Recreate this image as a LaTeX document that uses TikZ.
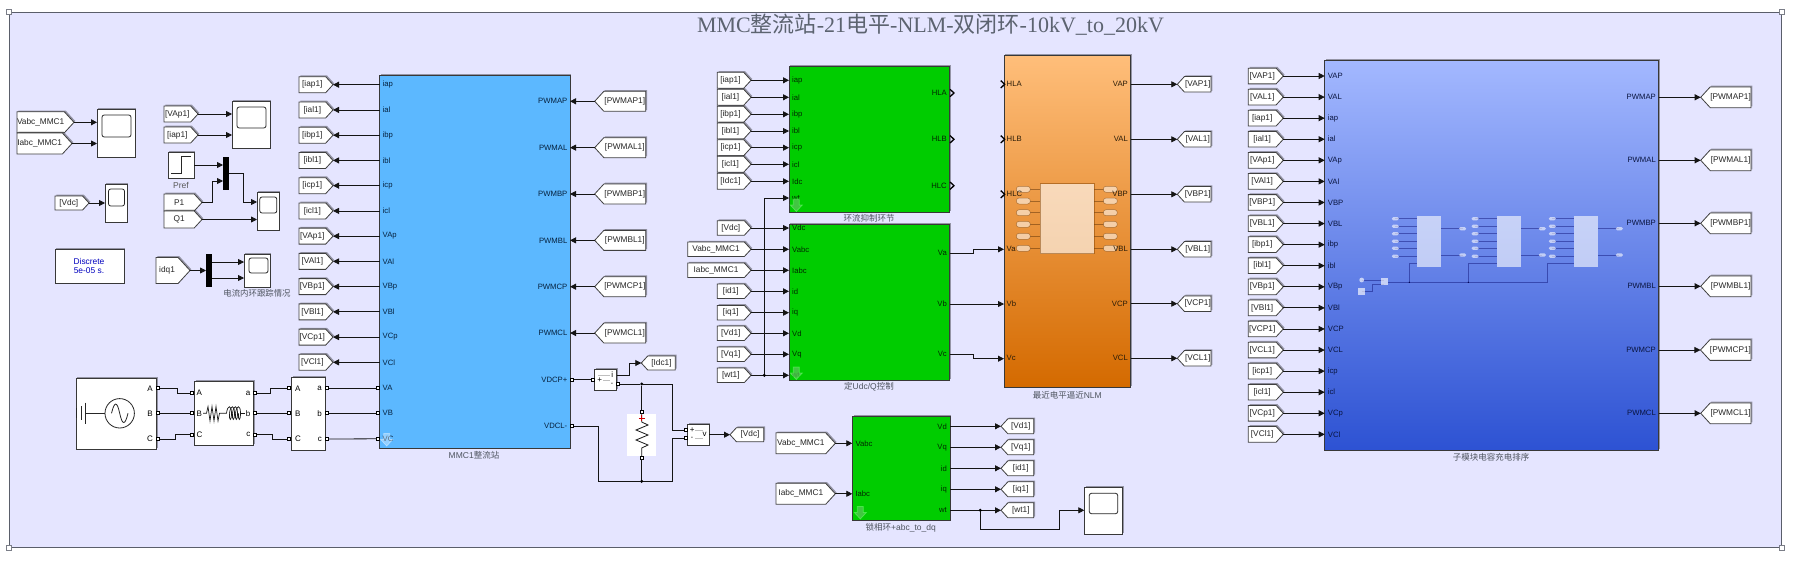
\documentclass[tikz,border=0pt]{standalone}
\usepackage{fontspec}
\setmainfont{Liberation Sans}
\newfontfamily\serifT{Liberation Serif}
\newfontfamily\cjk{Noto Sans CJK SC}
\usetikzlibrary{shapes.symbols,shadows,arrows.meta}
\definecolor{bgc}{HTML}{E5E5FF}
\definecolor{frm}{HTML}{5A5E6A}
\definecolor{ttl}{HTML}{5C6370}
\definecolor{capc}{HTML}{4F5560}
\definecolor{mmcb}{HTML}{5CB8FF}
\definecolor{grn}{HTML}{00CC00}
\definecolor{ptBlue}{HTML}{06223F}
\definecolor{ptGreen}{HTML}{012A01}
\definecolor{ptOr}{HTML}{2A1C08}
\definecolor{ptSub}{HTML}{0A1540}
\tikzset{
  x=1pt,y=-1pt,
  wire/.style={draw=black!92,line width=.8},
  arr/.style={wire,-{Triangle[length=6,width=6]}},
  shad/.style={drop shadow={shadow xshift=1.3,shadow yshift=-1.3,fill=black,opacity=.35}},
  tagbase/.style={shape=signal,signal pointer angle=95,draw=black!75,line width=.8,fill=white,shad,
    inner sep=0,outer sep=0,text=black!85,font=\fontsize{8.3}{9}\selectfont},
  tagR/.style={tagbase,signal to=east,anchor=west},
  tagL/.style={tagbase,signal to=west,anchor=east},
  blk/.style={draw=black!78,line width=.9,shad,inner sep=0,outer sep=0,anchor=north west},
  wbox/.style={blk,fill=white},
  screen/.style={draw=black!85,line width=.8,rounded corners=2.2,fill=white,inner sep=0,outer sep=0},
  muxb/.style={fill=black,inner sep=0,outer sep=0,anchor=north west},
  dot/.style={circle,fill=black,inner sep=0,outer sep=0,minimum size=3.4},
  port/.style={draw=black,fill=white,line width=.9,inner sep=0,outer sep=0,minimum size=3},
  plabL/.style={inner sep=0,anchor=west,font=\fontsize{7.7}{8}\selectfont},
  plabR/.style={inner sep=0,anchor=east,font=\fontsize{7.7}{8}\selectfont},
  capt/.style={inner sep=0,text=capc,font=\fontsize{8.5}{9}\selectfont},
  chev/.style={draw=black,line width=1.3},
  icol/.style={draw=black!70!orange,draw opacity=.45,line width=.6},
  icob/.style={draw=black!60!blue,draw opacity=.42,line width=.6},
  mask/.pic={\path[pic actions] (-3,-6)--(3,-6)--(3,0)--(6,0)--(0,6.5)--(-6,0)--(-3,0)--cycle;},
  mgreen/.style={fill=black!35!green!65!white,draw=green!60!white,fill opacity=.75,draw opacity=.6,line width=.7},
  mblue/.style={fill=white,draw=white,fill opacity=.35,draw opacity=.4,line width=.7},
}
\begin{document}
\begin{tikzpicture}
\useasboundingbox (0,0) rectangle (1794,562);
\fill[white] (0,0) rectangle (1794,562);
% frame
\node[draw=frm,fill=bgc,line width=1,inner sep=0,anchor=north west,minimum width=1772,minimum height=535] (frame) at (8.7,12) {};
\foreach \p in {north west,north east,south west,south east}
  \draw[frm!80,fill=white,line width=.6] ([shift={(-2.5,-2.5)}]frame.\p) rectangle ([shift={(2.5,2.5)}]frame.\p);
\node[inner sep=0,text=ttl,font=\fontsize{22}{24}\selectfont\serifT] (title) at (930.5,25)
 {MMC{\cjk 整流站}-21{\cjk 电平}-NLM-{\cjk 双闭环}-10kV\_to\_20kV};

% ---- left scopes group
\node[tagR,minimum width=55,minimum height=21] (tV) at (17,122.3) {Vabc\_MMC1};
\node[tagR,minimum width=55,minimum height=21] (tI) at (17,143.5) {Iabc\_MMC1};
\node[wbox,minimum width=38,minimum height=48] (sc1) at (97,109) {};
\node[screen,minimum width=29,minimum height=22] at (116.5,126) {};
\draw[arr] (tV.east) -- (tV.east -| sc1.west);
\draw[arr] (tI.east) -- (tI.east -| sc1.west);

\node[tagR,minimum width=34,minimum height=16] (tVAp) at (164,114) {[VAp1]};
\node[tagR,minimum width=34,minimum height=16] (tiap) at (164,135) {[iap1]};
\node[wbox,minimum width=38,minimum height=47] (sc2) at (232,101) {};
\node[screen,minimum width=29,minimum height=21] at (251.5,117.5) {};
\draw[arr] (tVAp.east) -- (tVAp.east -| sc2.west);
\draw[arr] (tiap.east) -- (tiap.east -| sc2.west);

\node[wbox,minimum width=26,minimum height=26] (pref) at (168,152) {};
\draw[black!85,line width=.8] (171,173.5) -- (181,173.5) -- (181,156.5) -- (191,156.5);
\node[capt,text=black!65] at (181,185) {Pref};
\node[muxb,minimum width=5.5,minimum height=33] (mx1) at (223,157) {};
\node[tagR,minimum width=38,minimum height=17] (tP) at (164,202.5) {P1};
\node[tagR,minimum width=38,minimum height=17] (tQ) at (164,219.5) {Q1};
\node[wbox,minimum width=22,minimum height=38] (sc3) at (257,192) {};
\node[screen,minimum width=17,minimum height=16] at (268.3,205) {};
\coordinate (mx1a) at (223,165);
\coordinate (mx1b) at (223,181);
\coordinate (mx1o) at (228.5,173);
\coordinate (sc3a) at (257,202);
\draw[arr] (pref.east |- mx1a) -- (mx1a);
\draw[arr] (tP.east) -- (212,202.5) -- (212,181) -- (mx1b);
\draw[arr] (mx1o) -- (243,173) -- (243,202) -- (sc3a);
\draw[arr] (tQ.east) -- (tQ.east -| sc3.west);

\node[tagR,minimum width=34,minimum height=14] (tVdc0) at (55,203) {[Vdc]};
\node[wbox,minimum width=22,minimum height=38] (sc4) at (105,184) {};
\node[screen,minimum width=16,minimum height=17] at (116.5,197.5) {};
\draw[arr] (tVdc0.east) -- (tVdc0.east -| sc4.west);

\node[wbox,minimum width=69,minimum height=34] (disc) at (55,249) {};
\node[inner sep=0,align=center,text=blue!75!black,font=\fontsize{8.4}{9.3}\selectfont] (disct) at (89,266) {Discrete\\5e-05 s.};

\node[tagR,minimum width=34,minimum height=26] (tidq) at (156,270.5) {idq1};
\node[muxb,minimum width=5.5,minimum height=33] (mx2) at (206,254) {};
\node[wbox,minimum width=26,minimum height=33] (sc5) at (244,254) {};
\node[screen,minimum width=19,minimum height=15] at (258.5,265.5) {};
\coordinate (mx2o1) at (211.5,262);
\coordinate (mx2o2) at (211.5,278);
\draw[arr] (tidq.east) -- (tidq.east -| mx2.west);
\draw[arr] (mx2o1) -- (mx2o1 -| sc5.west);
\draw[arr] (mx2o2) -- (mx2o2 -| sc5.west);
\node[capt,font=\fontsize{8.4}{9}\selectfont\cjk] at (257,293) {电流内环跟踪情况};

% ---- MMC1 block
\node[blk,fill=mmcb,minimum width=190.5,minimum height=373] (mmc) at (379.5,75) {};
\node[capt] at (474,455) {MMC1{\cjk 整流站}};
\foreach \p [count=\i] in {iap,ial,ibp,ibl,icp,icl,VAp,VAl,VBp,VBl,VCp,VCl}{
  \pgfmathsetmacro\yy{84.7+25.24*(\i-1)}
  \node[tagR,minimum width=34,minimum height=16] (mT\i) at (299,\yy) {[\p1]};
  \coordinate (mP\i) at (379.5,\yy);
  \node[plabL,text=ptBlue] at (382.5,\yy) {\p};
  \draw[arr] (mP\i) -- (mT\i.east);
}
\foreach \p/\yy in {VA/388.3,VB/413.3,VC/438.8}{
  \node[port] (mm\p) at (378,\yy) {};
  \node[plabL,text=ptBlue] at (382.5,\yy) {\p};
}
\foreach \p/\t [count=\i] in {PWMAP/PWMAP1,PWMAL/PWMAL1,PWMBP/PWMBP1,PWMBL/PWMBL1,PWMCP/PWMCP1,PWMCL/PWMCL1}{
  \pgfmathsetmacro\yy{101.3+46.35*(\i-1)}
  \node[tagL,minimum width=51,minimum height=20] (mR\i) at (645.7,\yy) {[\t]};
  \coordinate (mQ\i) at (570,\yy);
  \node[plabR,text=ptBlue] at (567.5,\yy) {\p};
  \draw[arr] (mR\i.west) -- (mQ\i);
}
\node[plabR,text=ptBlue] at (567.5,379.7) {VDCP+};
\node[plabR,text=ptBlue] at (567.5,426.3) {VDCL-};
\node[port] (dcp) at (572,379.7) {};
\node[port] (dcl) at (572,426.3) {};

% ---- AC source, RL, VI measure
\node[wbox,minimum width=80.5,minimum height=71] (src) at (76,378.3) {};
\draw[black!85,line width=.8] (86,413.3) -- (105,413.3) (85.7,402.7) -- (85.7,424) (81,406) -- (81,420) (76.7,408) -- (76.7,418);
\draw[black!85,line width=.8] (119.7,413.3) circle (14.7);
\draw[black!85,line width=.8] (111.5,413.3) .. controls (114.5,401) and (117,401) .. (119.7,413.3) .. controls (122.4,425.6) and (125,425.6) .. (128,413.3);
\foreach \p/\yy in {A/388.3,B/413.3,C/439}{
  \node[plabR,font=\fontsize{8}{8}\selectfont] at (153,\yy) {\p};
  \node[port] (src\p) at (158,\yy) {};
}
\node[wbox,minimum width=59,minimum height=64] (rl) at (194.3,381.7) {};
\foreach \p/\q/\yy in {A/a/393,B/b/413.3,C/c/434.7}{
  \node[port] (rl\p) at (192,\yy) {};
  \node[port] (rl\q) at (255,\yy) {};
  \node[plabL,font=\fontsize{8}{8}\selectfont] at (196.5,\yy) {\p};
  \node[plabR,font=\fontsize{8}{8}\selectfont] at (250.5,\yy) {\q};
}
\draw[black!90,line width=.7] (203,413.3) -- (206.5,413.3) -- (208,406.5) -- (210,421) -- (212,406.5) -- (214,421) -- (216,406.5) -- (218,421) -- (219.5,413.3) -- (226.5,413.3);
\foreach \xx in {226.5,229.5,232.5,235.5}
  \draw[black!90,line width=.7] (\xx,413.3) .. controls (\xx+1,404.5) and (\xx+5,404.5) .. (\xx+5,413) .. controls (\xx+5,421.5) and (\xx+2.5,421.5) .. (\xx+3,413.3);
\draw[black!90,line width=.7] (240.5,413.3) -- (245,413.3);
\node[wbox,minimum width=33.7,minimum height=72.7] (vi) at (291.3,377.3) {};
\foreach \p/\q/\yy in {A/a/388.3,B/b/413.3,C/c/439}{
  \node[port] (vi\p) at (289,\yy) {};
  \node[port] (vi\q) at (327,\yy) {};
  \node[plabL,font=\fontsize{8}{8}\selectfont] at (295,\yy) {\p};
  \node[plabR,font=\fontsize{8}{8}\selectfont] at (322,\yy) {\q};
}
\draw[wire] (srcA) -- (177.7,388.3) -- (177.7,393) -- (rlA);
\draw[wire] (srcB) -- (rlB);
\draw[wire] (srcC) -- (175.7,439) -- (175.7,434.7) -- (rlC);
\draw[wire] (rla) -- (270.3,393) -- (270.3,388.3) -- (viA);
\draw[wire] (rlb) -- (viB);
\draw[wire] (rlc) -- (272.5,434.7) -- (272.5,439) -- (viC);
\draw[wire] (via) -- (mmVA);
\draw[wire] (vib) -- (mmVB);
\draw[wire] (vic) -- (mmVC);
\pic[mblue] at (386.7,439.5) {mask};

% ---- DC side
\node[wbox,minimum width=22.4,minimum height=21] (imeas) at (594.3,369.3) {};
\draw[black!25,line width=.5] (598,375) -- (610,375) (603,380.5) -- (610,380.5);
\node[inner sep=0,font=\fontsize{8}{8}\selectfont] at (599.7,380.3) {+};
\node[inner sep=0,font=\fontsize{8}{8}\selectfont] at (612.3,375) {i};
\node[inner sep=0,font=\fontsize{7}{8}\selectfont] at (612,384.3) {-};
\node[port] (ip) at (592.7,379.7) {};
\node[port] (in) at (618,384) {};
\coordinate (iout) at (616.7,375);
\node[tagL,minimum width=34,minimum height=14] (tIdc) at (675.3,363) {[Idc1]};
\draw[arr] (iout) -- (629.3,375) -- (629.3,363) -- (tIdc.west);
\draw[wire] (dcp) -- (ip);
\node[fill=white,inner sep=0,outer sep=0,anchor=north west,minimum width=28.7,minimum height=42.3] (rbg) at (627.3,413.7) {};
\node[port] (rt) at (641.7,411.5) {};
\node[port] (rb) at (641.7,457.7) {};
\draw[black!90,line width=.8] (rt) -- (641.7,422) -- (648,425) -- (636,430) -- (648,435) -- (636,440) -- (648,445) -- (641.7,448) -- (rb);
\draw[red!80!black,line width=.6] (638.5,418.3) -- (644.9,418.3) (641.7,415.3) -- (641.7,421.3);
\node[dot] (j1) at (641.7,384) {};
\node[dot] (j2) at (641.7,481.3) {};
\node[wbox,minimum width=21.3,minimum height=20.7] (vmeas) at (687.7,424.3) {};
\draw[black!25,line width=.5] (695,430.3) -- (703,430.3) (695,438.3) -- (703,438.3);
\node[inner sep=0,font=\fontsize{8}{8}\selectfont] at (692.3,430.3) {+};
\node[inner sep=0,font=\fontsize{7}{8}\selectfont] at (692,438.3) {-};
\node[inner sep=0,font=\fontsize{8}{8}\selectfont] at (704.7,434.5) {v};
\node[port] (vp) at (685.7,430.3) {};
\node[port] (vn) at (685.7,438.3) {};
\draw[wire] (in) -- (j1);
\draw[wire] (j1) -- (672.3,384) -- (672.3,430.3) -- (vp);
\draw[wire] (j1) -- (rt);
\draw[wire] (rb) -- (j2);
\draw[wire] (dcl) -- (598.7,426.3) -- (598.7,481.3) -- (j2);
\draw[wire] (j2) -- (672.3,481.3) -- (672.3,438.3) -- (vn);
\node[tagL,minimum width=33.7,minimum height=14] (tVdc1) at (763.7,434.7) {[Vdc]};
\coordinate (vout) at (709,434.7);
\draw[arr] (vout) -- (tVdc1.west);

% ---- circulating current block
\node[blk,fill=grn,minimum width=160.7,minimum height=145.3] (cc) at (789,66.7) {};
\node[capt] at (869,218.7) {\cjk 环流抑制环节};
\foreach \p/\yy [count=\i] in {iap/80.3,ial/97.3,ibp/114.3,ibl/131,icp/147.7,icl/164.3,Idc/181.3}{
  \node[tagR,minimum width=33.7,minimum height=16] (cT\i) at (717.3,\yy) {[\p1]};
  \node[plabL,text=ptGreen] at (792,\yy) {\p};
  \draw[arr] (cT\i.east) -- (cT\i.east -| cc.west);
}
\coordinate (ccwt) at (789,198);
\node[plabL,text=ptGreen] at (792,198) {wt};
\pic[mgreen] at (796.3,205) {mask};
\foreach \p/\yy in {HLA/93,HLB/139.3,HLC/185.7}{
  \node[plabR,text=ptGreen] at (947,\yy) {\p};
  \draw[chev] (950,\yy-3.7) -- (954,\yy) -- (950,\yy+3.7);
}

% ---- Udc/Q block
\node[blk,fill=grn,minimum width=160.5,minimum height=156] (dq) at (789,224) {};
\node[capt] at (869,387) {{\cjk 定}Udc/Q{\cjk 控制}};
\foreach \t/\p/\yy/\xx [count=\i] in {[Vdc]/Vdc/228/717.3,Vabc\_MMC1/Vabc/249.3/687.7,Iabc\_MMC1/Iabc/270.3/687.7,[id1]/id/291.3/717.3,[iq1]/iq/312.7/717.3,[Vd1]/Vd/333.3/717.3,[Vq1]/Vq/354.3/717.3,[wt1]/wt/375.3/717.3}{
  \pgfmathsetmacro\ww{751-\xx}
  \node[tagR,minimum width=\ww,minimum height=14.5] (dT\i) at (\xx,\yy) {\t};
  \node[plabL,text=ptGreen] at (792,\yy) {\p};
  \draw[arr] (dT\i.east) -- (dT\i.east -| dq.west);
}
\pic[mgreen] at (796.3,373) {mask};
\node[dot] (jwt) at (764.3,375.3) {};
\draw[arr] (jwt) -- (764.3,198) -- (ccwt);
\foreach \p/\yy in {Va/253.3,Vb/304,Vc/354.3}
  \node[plabR,text=ptGreen] at (947,\yy) {\p};

% ---- NLM block
\node[blk,top color={rgb,255:red,255;green,190;blue,122},bottom color={rgb,255:red,212;green,106;blue,0},minimum width=126.7,minimum height=331.6] (nlm) at (1004,55.7) {};
\node[capt] at (1067.3,395) {{\cjk 最近电平逼近}NLM};
\foreach \yy in {189.3,201,212.7,224.3,236.3,248.3}{
  \draw[icol] (1030,\yy) -- (1040,\yy) (1094.3,\yy) -- (1103.5,\yy);
  \path[fill=white,fill opacity=.55,draw=black!60!orange,draw opacity=.5,line width=.5,rounded corners=2.8] (1016.3,\yy-3) rectangle (1030.3,\yy+3);
  \path[fill=white,fill opacity=.55,draw=black!60!orange,draw opacity=.5,line width=.5,rounded corners=2.8] (1103.3,\yy-3) rectangle (1117.3,\yy+3);
}
\path[fill=white,fill opacity=.62,draw=black!50!orange,draw opacity=.5,line width=.6] (1040,183.7) rectangle (1094.3,253.7);
\foreach \p/\yy in {HLA/84.3,HLB/139.3,HLC/194.3,Va/249,Vb/303.7,Vc/358.3}
  \node[plabL,text=ptOr] at (1006.5,\yy) {\p};
\foreach \yy in {84.3,139.3,194.3}
  \draw[chev] (1000.7,\yy-3.7) -- (1004.7,\yy) -- (1000.7,\yy+3.7);
\foreach \p/\yy [count=\i] in {VAP/84.3,VAL/139.3,VBP/194.3,VBL/249.3,VCP/303.7,VCL/358.3}{
  \node[tagL,minimum width=33.7,minimum height=15.5] (nT\i) at (1211,\yy) {[\p1]};
  \node[plabR,text=ptOr] at (1128,\yy) {\p};
  \draw[arr] (nT\i.west -| nlm.east) -- (nT\i.west);
}
\coordinate (nVa) at (1004,249.3);
\coordinate (nVb) at (1004,304);
\coordinate (nVc) at (1004,358.7);
\coordinate (dVa) at (949.5,253.3);
\coordinate (dVb) at (949.5,304);
\coordinate (dVc) at (949.5,354.3);
\draw[arr] (dVa) -- (973.7,253.3) -- (973.7,249.3) -- (nVa);
\draw[arr] (dVb) -- (nVb);
\draw[arr] (dVc) -- (973.7,354.3) -- (973.7,358.7) -- (nVc);

% ---- PLL block
\node[blk,fill=grn,minimum width=97.7,minimum height=103.6] (pll) at (852.3,416.7) {};
\node[capt] at (900.7,527.7) {{\cjk 锁相环}+abc\_to\_dq};
\node[tagR,minimum width=59.3,minimum height=21] (pV) at (776,443.3) {Vabc\_MMC1};
\node[tagR,minimum width=59.3,minimum height=21] (pI) at (776,493.8) {Iabc\_MMC1};
\draw[arr] (pV.east) -- (pV.east -| pll.west);
\draw[arr] (pI.east) -- (pI.east -| pll.west);
\node[plabL,text=ptGreen] at (855.3,443.3) {Vabc};
\node[plabL,text=ptGreen] at (855.3,493.5) {Iabc};
\pic[mgreen] at (860.3,512.5) {mask};
\foreach \p/\yy [count=\i] in {Vd/426.3,Vq/447.3,id/468.3,iq/489.3,wt/510.3}{
  \node[tagL,minimum width=32.7,minimum height=15] (pT\i) at (1033.7,\yy) {[\p1]};
  \node[plabR,text=ptGreen] at (947,\yy) {\p};
  \coordinate (pP\i) at (950,\yy);
  \draw[arr] (pP\i) -- (pT\i.west);
}
\node[dot] (jw2) at (980.3,510.3) {};
\node[wbox,minimum width=38.4,minimum height=47.7] (sc6) at (1084.3,487) {};
\node[screen,minimum width=28.4,minimum height=20.4] at (1103.5,503.5) {};
\draw[arr] (jw2) -- (980.3,529.3) -- (1059.3,529.3) -- (1059.3,510.3) -- (1084.3,510.3);

% ---- Submodule sort block
\node[blk,top color={rgb,255:red,163;green,184;blue,255},bottom color={rgb,255:red,45;green,82;blue,211},minimum width=334,minimum height=390.7] (sub) at (1324.7,60) {};
\node[capt] at (1491,457.3) {\cjk 子模块电容充电排序};
\foreach \p [count=\i] in {VAP,VAL,iap,ial,VAp,VAl,VBP,VBL,ibp,ibl,VBp,VBl,VCP,VCL,icp,icl,VCp,VCl}{
  \pgfmathsetmacro\yy{76+21.08*(\i-1)}
  \node[tagR,minimum width=35,minimum height=15.7] (sT\i) at (1248.3,\yy) {[\p1]};
  \node[plabL,text=ptSub] at (1327.7,\yy) {\p};
  \draw[arr] (sT\i.east) -- (sT\i.east -| sub.west);
}
\foreach \p/\yy [count=\i] in {PWMAP/97.3,PWMAL/160.3,PWMBP/223.3,PWMBL/286.3,PWMCP/350,PWMCL/413.3}{
  \node[tagL,minimum width=50.3,minimum height=20.7] (sR\i) at (1751,\yy) {[\p1]};
  \node[plabR,text=ptSub] at (1656,\yy) {\p};
  \draw[arr] (sR\i.west -| sub.east) -- (sR\i.west);
}
% icon
\foreach \xa/\xb/\xl/\xo in {1416.7/1441/1395.3/1462.7,1496.7/1521/1475/1542.3,1574/1598.3/1552.3/1619.3}{
  \foreach \yy in {218.7,226.3,233.7,241.3,248.3,256.3}{
    \draw[icob] (\xl,\yy) -- (\xa,\yy);
    \path[fill=white,fill opacity=.6,rounded corners=1.4] (\xl-3.5,\yy-1.6) rectangle (\xl+3.5,\yy+1.6);
  }
  \foreach \yy in {228.7,255}{
    \draw[icob] (\xb,\yy) -- (\xo,\yy);
    \path[fill=white,fill opacity=.6,rounded corners=1.4] (\xo-3.5,\yy-1.6) rectangle (\xo+3.5,\yy+1.6);
  }
  \path[fill=white,fill opacity=.6] (\xa,215.7) rectangle (\xb,267);
}
\draw[icob] (1387.7,282.3) -- (1547.3,282.3) -- (1547.3,263.3) -- (1574,263.3);
\draw[icob] (1409.3,282.3) -- (1409.3,263.3) -- (1416.7,263.3);
\draw[icob] (1468.3,282.3) -- (1468.3,263.3) -- (1496.7,263.3);
\fill[black!70!blue] (1409.3,282.3) circle (.7) (1468.3,282.3) circle (.7);
\draw[icob] (1361.7,280) -- (1384,280);
\draw[icob] (1361.7,291) -- (1372.7,291) -- (1372.7,284) -- (1384,284);
\path[fill=white,fill opacity=.65] (1361.7,280) circle (2.4);
\path[fill=white,fill opacity=.65] (1380.5,278.2) rectangle (1387.5,285.2);
\path[fill=white,fill opacity=.65] (1358.2,287.5) rectangle (1365.2,294.5);
\end{tikzpicture}
\end{document}
